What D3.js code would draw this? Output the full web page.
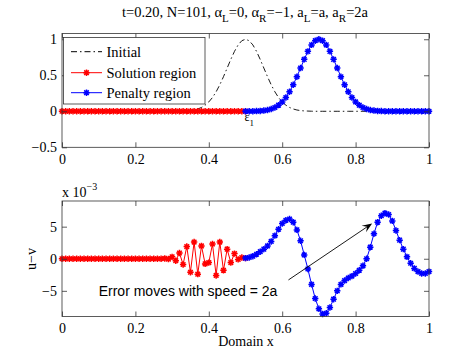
<!DOCTYPE html>
<html><head><meta charset="utf-8">
<script src="https://cdn.jsdelivr.net/npm/d3@7"></script>
<style>body{margin:0;background:#fff}svg{display:block}</style>
</head><body><svg id="c" width="474" height="356"></svg>
<script>
// ---------------- data ----------------
const N = 101;
const xGrid = d3.range(N).map(i => i / (N - 1));
const xTicks = [0, 0.2, 0.4, 0.6, 0.8, 1];
const xTickLabels = ["0", "0.2", "0.4", "0.6", "0.8", "1"];
const topYTicks = [-0.5, 0, 0.5, 1];
const topYTickLabels = ["\u22120.5", "0", "0.5", "1"];
const botYTicks = [-5, 0, 5];
const botYTickLabels = ["\u22125", "0", "5"];

// initial profile, x = 0.00 .. 1.00
const initial = [
 0,0,0,0,0,0,0,0,0,0,
 0,0,0,0,0,0,0,0,0,0,
 0,0,0,0,0,0,0,0,0,0,
 0,0,0.001,0.003,0.005,0.010,0.018,0.032,0.053,0.085,
 0.130,0.191,0.271,0.368,0.480,0.600,0.721,0.832,0.922,0.980,
 1.000,0.980,0.922,0.832,0.721,0.600,0.480,0.368,0.271,0.191,
 0.130,0.085,0.053,0.032,0.018,0.010,0.005,0.003,0.001,0,
 0,0,0,0,0,0,0,0,0,0,
 0,0,0,0,0,0,0,0,0,0,
 0,0,0,0,0,0,0,0,0,0,
 0
];
// solution region, x = 0.00 .. 0.50
const topSolution = [
 0,0,0,0,0,0,0,0,0,0,
 0,0,0,0,0,0,0,0,0,0,
 0,0,0,0,0,0,0,0,0,0,
 0,0,0,0,0,0,0,0,0,0,
 0,0,0,0,0,0,0,0,0,0,
 0
];
// penalty region, x = 0.50 .. 1.00
const topPenalty = [
 0,0.001,0.001,0.003,0.005,0.010,0.018,0.032,0.053,0.085,
 0.130,0.191,0.271,0.368,0.480,0.600,0.721,0.832,0.922,0.980,
 1.000,0.980,0.922,0.832,0.721,0.600,0.480,0.368,0.271,0.191,
 0.130,0.085,0.053,0.032,0.018,0.010,0.005,0.003,0.001,0.001,
 0,0,0,0,0,0,0,0,0,0,
 0
];
// error u-v (x 1e-3), solution region x = 0.00 .. 0.50
const errSolution = [
 0,0,0,0,0,0,0,0,0,0,
 0,0,0,0,0,0,0,0,0,0,
 0,0,0,0,0,0,0,0,0.05,-0.05,
 0.3,-0.3,0.9,-0.9,1.9,-2.1,2.6,-2.4,2.0,-0.8,
 -0.6,2.3,-2.6,2.6,-1.8,1.5,-0.6,0.8,-0.1,0.2,
 0.1
];
// error u-v (x 1e-3), penalty region x = 0.50 .. 1.00
const errPenalty = [
 0.1,0.2,0.4,0.7,1.1,1.5,2.0,2.7,3.6,4.6,
 5.5,6.0,6.2,5.7,4.5,2.8,0.6,-1.6,-4.0,-6.2,
 -7.8,-8.6,-8.5,-7.6,-6.3,-5.0,-4.0,-3.4,-3.0,-2.7,
 -2.3,-1.8,-1.1,0.0,1.8,3.9,5.7,6.7,7.1,6.9,
 5.9,4.4,2.9,1.5,0.3,-0.7,-1.5,-2.0,-2.3,-2.3,
 -2.0
];
const legendLabels = ["Initial", "Solution region", "Penalty region"];
const annotationText = "Error moves with speed = 2a";
const arrowFrom = [0.617, -3.3], arrowTo = [0.845, 5.5];

// ---------------- drawing ----------------
const svg = d3.select("#c");
const SERIF = "'Liberation Serif','Times New Roman',serif";
const SANS = "'Liberation Sans',Arial,sans-serif";
const RED = "#ff0000", BLUE = "#0000ff";
const starPath = "M-3.2,0H3.2M0,-3.2V3.2M-2.3,-2.3L2.3,2.3M-2.3,2.3L2.3,-2.3";

const x = d3.scaleLinear().domain([0, 1]).range([62, 429]);
const yTop = d3.scaleLinear().domain([-0.5, 1.08]).range([147.3, 33.5]);
const yBot = d3.scaleLinear().domain([-9, 9]).range([316.5, 201]);

const solX = xGrid.slice(0, 51), penX = xGrid.slice(50);

function axes(y, yTicks, yLabels) {
  const g = svg.append("g");
  const [y0, y1] = y.range();
  const style = a => a.selectAll(".domain").remove();
  const fmt = (arr, labels) => (d) => labels[arr.indexOf(d)];
  const gb = g.append("g").attr("transform", `translate(0,${y0})`)
    .call(d3.axisBottom(x).tickValues(xTicks).tickSize(-5).tickPadding(7).tickFormat(fmt(xTicks, xTickLabels)));
  const gt = g.append("g").attr("transform", `translate(0,${y1})`)
    .call(d3.axisTop(x).tickValues(xTicks).tickSize(-5).tickFormat(""));
  const gl = g.append("g").attr("transform", `translate(62,0)`)
    .call(d3.axisLeft(y).tickValues(yTicks).tickSize(-5).tickPadding(5).tickFormat(fmt(yTicks, yLabels)));
  const gr = g.append("g").attr("transform", `translate(429,0)`)
    .call(d3.axisRight(y).tickValues(yTicks).tickSize(-5).tickFormat(""));
  [gb, gt, gl, gr].forEach(a => {
    style(a);
    a.attr("font-family", SERIF).attr("font-size", 14);
    a.selectAll("line").attr("stroke", "#333").attr("stroke-width", 0.8);
    a.selectAll("text").attr("font-family", SERIF).attr("font-size", 14).attr("fill", "#000");
  });
  g.append("rect").attr("x", 62).attr("y", y1).attr("width", 367).attr("height", y0 - y1)
    .attr("fill", "none").attr("stroke", "#333").attr("stroke-width", 0.8);
  return g;
}

function series(g, xs, ys, y, color) {
  const line = d3.line().x((d, i) => x(xs[i])).y(d => y(d));
  g.append("path").datum(ys).attr("d", line).attr("fill", "none")
    .attr("stroke", color).attr("stroke-width", 1);
  g.selectAll(null).data(ys).enter().append("path")
    .attr("transform", (d, i) => `translate(${x(xs[i])},${y(d)})`)
    .attr("d", starPath).attr("stroke", color).attr("stroke-width", 1.5).attr("fill", "none");
}

// ----- top panel -----
const gTop = svg.append("g");
gTop.append("path").datum(initial)
  .attr("d", d3.line().x((d, i) => x(xGrid[i])).y(d => yTop(d)))
  .attr("fill", "none").attr("stroke", "#000").attr("stroke-width", 0.9)
  .attr("stroke-dasharray", "6,3,1.5,3");
series(gTop, solX, topSolution, yTop, RED);
series(gTop, penX, topPenalty, yTop, BLUE);
axes(yTop, topYTicks, topYTickLabels);

// epsilon label
const eps = svg.append("text").attr("x", x(0.5) - 1).attr("y", yTop(0) + 10)
  .attr("font-family", SERIF).attr("font-size", 12);
eps.append("tspan").text("\u03b5");
eps.append("tspan").attr("font-size", 9).attr("dy", 5).text("1");

// legend
const lg = svg.append("g");
lg.append("rect").attr("x", 63.5).attr("y", 37.5).attr("width", 141.5).attr("height", 66.5)
  .attr("fill", "#fff").attr("stroke", "#333").attr("stroke-width", 0.8);
const rowsY = [51.7, 72.7, 92.7];
const rowStyles = [
  {color: "#000", dash: "6,3,1.5,3", marker: false},
  {color: RED, dash: null, marker: true},
  {color: BLUE, dash: null, marker: true}
];
legendLabels.forEach((lab, i) => {
  const s = rowStyles[i];
  lg.append("line").attr("x1", 71).attr("x2", 102).attr("y1", rowsY[i]).attr("y2", rowsY[i])
    .attr("stroke", s.color).attr("stroke-width", 1).attr("stroke-dasharray", s.dash);
  if (s.marker) lg.append("path").attr("transform", `translate(86.5,${rowsY[i]})`)
    .attr("d", starPath).attr("stroke", s.color).attr("stroke-width", 1.5).attr("fill", "none");
  lg.append("text").attr("x", 106.5).attr("y", rowsY[i] + 5).attr("font-family", SERIF)
    .attr("font-size", 14.5).text(lab);
});

// title
const title = svg.append("text").attr("x", 245).attr("y", 17).attr("text-anchor", "middle")
  .attr("font-family", SERIF).attr("font-size", 14.5);
const tparts = [["t=0.20, N=101, \u03b1", null], ["L", 1], ["=0, \u03b1", 0], ["R", 1], ["=\u22121, a", 0], ["L", 1], ["=a, a", 0], ["R", 1], ["=2a", 0]];
let sub = false;
tparts.forEach(([t, s]) => {
  const ts = title.append("tspan").text(t);
  if (s === 1) { ts.attr("font-size", 11).attr("dy", 5); sub = true; }
  else if (s === 0 && sub) { ts.attr("dy", -5); sub = false; }
});

// ----- bottom panel -----
const gBot = svg.append("g");
series(gBot, solX, errSolution, yBot, RED);
series(gBot, penX, errPenalty, yBot, BLUE);
axes(yBot, botYTicks, botYTickLabels);

// exponent label
const ex = svg.append("text").attr("x", 62).attr("y", 197).attr("font-family", SERIF).attr("font-size", 14);
ex.append("tspan").text("x 10");
ex.append("tspan").attr("font-size", 10).attr("dy", -7).text("\u22123");

// axis labels
svg.append("text").attr("x", 246).attr("y", 346).attr("text-anchor", "middle")
  .attr("font-family", SERIF).attr("font-size", 14).text("Domain x");
svg.append("text").attr("transform", "translate(36,259) rotate(-90)").attr("text-anchor", "middle")
  .attr("font-family", SERIF).attr("font-size", 14).text("u\u2212v");

// annotation
svg.append("text").attr("x", x(0.1)).attr("y", yBot(-5.8)).attr("font-family", SANS)
  .attr("font-size", 14).text(annotationText);
const ax0 = x(arrowFrom[0]), ay0 = yBot(arrowFrom[1]), ax1 = x(arrowTo[0]), ay1 = yBot(arrowTo[1]);
const ang = Math.atan2(ay1 - ay0, ax1 - ax0);
svg.append("line").attr("x1", ax0).attr("y1", ay0)
  .attr("x2", ax1 - 6 * Math.cos(ang)).attr("y2", ay1 - 6 * Math.sin(ang))
  .attr("stroke", "#000").attr("stroke-width", 0.9);
const hl = 10, hw = 4;
const pts = [[ax1, ay1],
  [ax1 - hl * Math.cos(ang) + hw * Math.sin(ang), ay1 - hl * Math.sin(ang) - hw * Math.cos(ang)],
  [ax1 - 0.6 * hl * Math.cos(ang), ay1 - 0.6 * hl * Math.sin(ang)],
  [ax1 - hl * Math.cos(ang) - hw * Math.sin(ang), ay1 - hl * Math.sin(ang) + hw * Math.cos(ang)]];
svg.append("path").attr("d", "M" + pts.map(p => p.join(",")).join("L") + "Z").attr("fill", "#000");
</script></body></html>
